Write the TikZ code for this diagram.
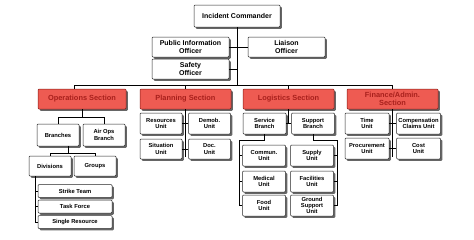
\documentclass[tikz,border=0pt]{standalone}
\usepackage{fontspec}
\setmainfont{Liberation Sans}
\usetikzlibrary{shadows}
\definecolor{secred}{HTML}{EE5B52}
\definecolor{secdark}{HTML}{A8201C}
\begin{document}
\begin{tikzpicture}[x=1pt,y=-1pt,
  base/.style={draw=black!85, line width=0.5pt, rounded corners=1pt, inner sep=0.5pt, align=center,
    font=\bfseries\fontsize{5.8}{6.3}\selectfont,
    drop shadow={shadow xshift=1.8pt, shadow yshift=-1.8pt, fill=black!60, opacity=1}},
  box/.style={base, fill=white},
  big/.style={box, font=\bfseries\fontsize{7}{7.6}\selectfont},
  sec/.style={base, fill=secred, text=secdark, draw=secdark!80!black, font=\bfseries\fontsize{7.4}{7.6}\selectfont},
  wh/.style 2 args={minimum width=#1pt, minimum height=#2pt},
  ln/.style={line width=0.9pt, draw=black}]
\useasboundingbox (0,0) rectangle (474,239);
\fill[white] (0,0) rectangle (474,239);

% top
\node[big, wh={86}{22}] (ic) at (237,16) {Incident Commander};
\node[big, wh={77}{20}] (pio) at (190.5,47) {Public Information\\Officer};
\node[big, wh={77}{20}] (liaison) at (286.5,47) {Liaison\\Officer};
\node[big, wh={77}{20}] (safety) at (190.5,69) {Safety\\Officer};

% sections
\node[sec, wh={88}{20}] (ops) at (82,99) {Operations Section};
\node[sec, wh={91}{20}] (plan) at (185.5,99) {Planning Section};
\node[sec, wh={91}{20}] (log) at (288.5,99) {Logistics Section};
\node[sec, wh={91}{20}] (fin) at (392.5,99) {Finance/Admin.\\Section};

% operations
\node[box, wh={42}{22}] (branches) at (58,135) {Branches};
\node[box, wh={42}{22}] (airops) at (104,135) {Air Ops\\Branch};
\node[box, wh={42}{20}] (div) at (50,166) {Divisions};
\node[box, wh={42}{20}] (groups) at (95,166) {Groups};
\node[box, wh={74}{13}] (strike) at (75,191) {Strike Team};
\node[box, wh={74}{13}] (task) at (75,206.5) {Task Force};
\node[box, wh={74}{13}] (single) at (75,222) {Single Resource};

% planning
\node[box, wh={42}{21}] (res) at (161,123.5) {Resources\\Unit};
\node[box, wh={42}{21}] (demob) at (209.5,123.5) {Demob.\\Unit};
\node[box, wh={42}{20}] (sit) at (161,149) {Situation\\Unit};
\node[box, wh={42}{20}] (doc) at (209.5,149) {Doc.\\Unit};

% logistics
\node[box, wh={43}{21}] (svc) at (264.5,123.5) {Service\\Branch};
\node[box, wh={43}{21}] (sup) at (313,123.5) {Support\\Branch};
\node[box, wh={43}{21}] (comm) at (264,155.5) {Commun.\\Unit};
\node[box, wh={43}{21}] (med) at (264,181.5) {Medical\\Unit};
\node[box, wh={43}{21}] (food) at (264,205.5) {Food\\Unit};
\node[box, wh={43}{21}] (supply) at (312,155.5) {Supply\\Unit};
\node[box, wh={43}{21}] (fac) at (312,181.5) {Facilities\\Unit};
\node[box, wh={43}{21}, font=\bfseries\fontsize{5.8}{5.9}\selectfont] (gsu) at (312,205.5) {Ground\\Support\\Unit};

% finance
\node[box, wh={44}{21}] (time) at (367,123.5) {Time\\Unit};
\node[box, wh={44}{21}] (comp) at (418.5,123.5) {Compensation\\Claims Unit};
\node[box, wh={44}{21}] (proc) at (367,148.5) {Procurement\\Unit};
\node[box, wh={44}{21}] (cost) at (418.5,148.5) {Cost\\Unit};

% connectors: top
\coordinate (bl) at (74,85);
\coordinate (br) at (393,85);
\draw[ln] (ic.south) -- (ic.south |- bl);
\draw[ln] (pio.east) -- (liaison.west);
\draw[ln] (safety.east) -- (safety.east -| ic.south);
\draw[ln] (bl) -- (br);
\draw[ln] (bl) -- (bl |- ops.north);
\draw[ln] (plan.north) -- (plan.north |- bl);
\draw[ln] (log.north) -- (log.north |- bl);
\draw[ln] (fin.north) -- (fin.north |- bl);

% operations
\coordinate (oj) at (82,117);
\draw[ln] (ops.south) -- (oj);
\draw[ln] (branches.north) -- (branches.north |- oj) -- (airops.north |- oj) -- (airops.north);
\coordinate (bj) at (68,153);
\draw[ln] (bj |- branches.south) -- (bj);
\draw[ln] (div.north) -- (div.north |- bj) -- (groups.north |- bj) -- (groups.north);
\coordinate (dl) at (35,176);
\draw[ln] (dl) -- (dl |- single.west) -- (single.west);
\draw[ln] (dl |- strike.west) -- (strike.west);
\draw[ln] (dl |- task.west) -- (task.west);

% planning
\coordinate (pe) at (185.5,157);
\draw[ln] (plan.south) -- (pe);
\draw[ln] (res.east) -- (demob.west);
\draw[ln] (sit.east) -- (doc.west);

% logistics
\draw[ln] (log.south) -- (log.south |- svc.east);
\draw[ln] (svc.east) -- (sup.west);
\coordinate (lL) at (239,140);
\draw[ln] (svc.south) -- (svc.south |- lL) -- (lL) -- (lL |- food.west) -- (food.west);
\draw[ln] (lL |- comm.west) -- (comm.west);
\draw[ln] (lL |- med.west) -- (med.west);
\coordinate (lR) at (337.5,140);
\draw[ln] (sup.south) -- (sup.south |- lR) -- (lR) -- (lR |- gsu.east) -- (gsu.east);
\draw[ln] (lR |- supply.east) -- (supply.east);
\draw[ln] (lR |- fac.east) -- (fac.east);

% finance
\coordinate (fe) at (392.5,157);
\draw[ln] (fin.south) -- (fe);
\draw[ln] (time.east) -- (comp.west);
\draw[ln] (proc.east) -- (cost.west);
\end{tikzpicture}
\end{document}
